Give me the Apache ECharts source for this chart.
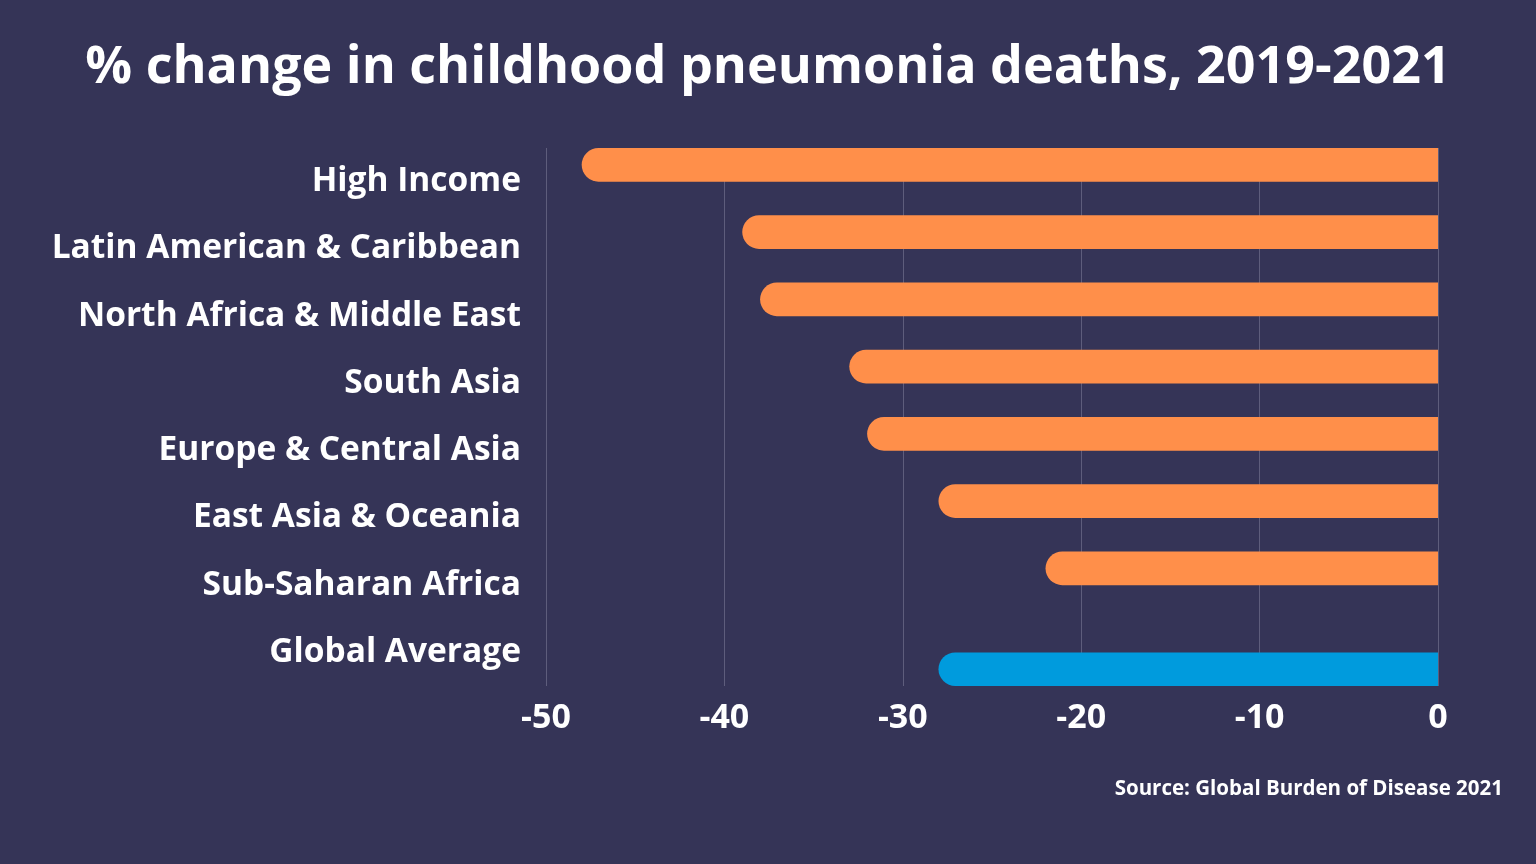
<!DOCTYPE html>
<html><head><meta charset="utf-8">
<script src="https://cdn.jsdelivr.net/npm/echarts@6/dist/echarts.min.js"></script>
<style>html,body{margin:0;padding:0;background:#353457;}#c{width:1536px;height:864px;}</style>
</head><body><div id="c"></div>
<script>
const categories = ["High Income","Latin American & Caribbean","North Africa & Middle East","South Asia","Europe & Central Asia","East Asia & Oceania","Sub-Saharan Africa","Global Average"];
const regionValues = [-48, -39, -38, -33, -32, -28, -22, null];
const globalValues = [null, null, null, null, null, null, null, -28];
const xTicks = [-50, -40, -30, -20, -10, 0];

const FONT = 'Open Sans';
const chart = echarts.init(document.getElementById('c'));
chart.setOption({
  backgroundColor: '#353457',
  animation: false,
  title: [{
    text: '% change in childhood pneumonia deaths, 2019-2021',
    left: 'center', top: 37,
    textStyle: {color: '#ffffff', fontSize: 52, fontWeight: 'bold', fontFamily: FONT}
  }, {
    text: 'Source: Global Burden of Disease 2021',
    right: 28, top: 774,
    textStyle: {color: '#ffffff', fontSize: 20.5, fontWeight: 'bold', fontFamily: FONT}
  }],
  grid: {left: 546, right: 98, top: 148, bottom: 178, containLabel: false},
  xAxis: {
    type: 'value', min: xTicks[0], max: xTicks[xTicks.length-1], interval: 10,
    axisLine: {show: false}, axisTick: {show: false},
    splitLine: {show: true, lineStyle: {color: '#5e5d7c', width: 1}},
    axisLabel: {color: '#ffffff', fontSize: 34, fontWeight: 'bold', fontFamily: FONT, margin: 15}
  },
  yAxis: {
    type: 'category', data: categories, inverse: true,
    axisLine: {show: false}, axisTick: {show: false},
    axisLabel: {color: '#ffffff', fontSize: 33.5, fontWeight: 'bold', fontFamily: FONT, margin: 25}
  },
  series: [{
    type: 'bar', data: regionValues, barWidth: '50%', barGap: '0%',
    itemStyle: {color: '#ff8f4a', borderRadius: [17, 0, 0, 17]}
  }, {
    type: 'bar', data: globalValues, barWidth: '50%', barGap: '0%',
    itemStyle: {color: '#009bdd', borderRadius: [17, 0, 0, 17]}
  }]
});
</script></body></html>
